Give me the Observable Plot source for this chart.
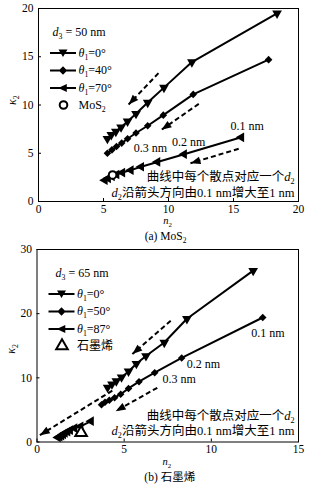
<!DOCTYPE html>
<html><head><meta charset="utf-8">
<script src="https://cdn.jsdelivr.net/npm/d3@7"></script>
<script src="https://cdn.jsdelivr.net/npm/@observablehq/plot@0.6"></script>
<style>
html,body{margin:0;padding:0;background:#fff;}
#root{width:321px;height:488px;overflow:hidden;}
svg{display:block;}
svg text, svg tspan{font-family:"Liberation Serif","Times New Roman","DejaVu Serif","Noto Sans CJK SC",serif !important;}
</style></head><body><div id="root"></div>
<script>
// ---------- Panel (a) MoS2 data ----------
const aX_t0 = [18.35, 11.8, 9.65, 8.4, 7.5, 6.85, 6.35, 5.95, 5.6, 5.3];
const aY_t0 = [19.5, 14.45, 11.8, 10.25, 9.1, 8.3, 7.7, 7.25, 6.9, 6.5];
const aX_t40 = [17.7, 11.9, 9.6, 8.4, 7.5, 6.85, 6.4, 6.0, 5.65, 5.3];
const aY_t40 = [14.7, 11.1, 8.95, 7.85, 7.1, 6.5, 6.05, 5.7, 5.35, 5.0];
const aX_t70 = [15.6, 11.2, 9.15, 7.9, 7.1, 6.45, 6.0, 5.65, 5.35, 5.1];
const aY_t70 = [6.65, 4.9, 4.1, 3.6, 3.25, 3.0, 2.8, 2.6, 2.4, 2.2];
const aRef = {x: 5.7, y: 2.75};
const aLabelText = ["0.1 nm", "0.2 nm", "0.3 nm"];
const aLabelX = [16.05, 11.55, 8.6];
const aLabelY = [7.8, 6.15, 5.5];
const aArrowX1 = [9.23, 12.33, 15.4], aArrowY1 = [13.3, 10.12, 5.46];
const aArrowX2 = [6.93, 9.46, 11.69], aArrowY2 = [10.05, 7.43, 3.97];
const aLegend = ["*θ*_1=0°", "*θ*_1=40°", "*θ*_1=70°", "MoS_2"];
const aD3 = "*d*_3 = 50 nm";
const aCaption = "(a) MoS_2";

// ---------- Panel (b) graphene data ----------
const bX_t0 = [12.4, 8.6, 7.3, 6.25, 5.7, 5.25, 4.85, 4.55, 4.3, 4.05];
const bY_t0 = [26.7, 19.2, 15.5, 13.4, 12.2, 11.0, 10.1, 9.5, 9.0, 8.5];
const bX_t50 = [12.95, 8.3, 6.75, 5.85, 5.25, 4.8, 4.45, 4.15, 3.9, 3.7];
const bY_t50 = [19.4, 13.1, 10.8, 9.4, 8.35, 7.45, 6.9, 6.5, 6.2, 5.8];
const bX_t87 = [3.1, 2.5, 2.15, 1.9, 1.75, 1.6, 1.5, 1.4, 1.3, 1.2];
const bY_t87 = [3.25, 2.45, 2.15, 1.85, 1.6, 1.4, 1.2, 1.0, 0.85, 0.7];
const bRef = {x: 2.53, y: 1.45};
const bLabelText = ["0.1 nm", "0.2 nm", "0.3 nm"];
const bLabelX = [13.25, 9.55, 8.15];
const bLabelY = [17.0, 12.1, 9.75];
const bArrowX1 = [7.67, 6.9, 4.32], bArrowY1 = [18.9, 8.45, 8.0];
const bArrowX2 = [5.47, 4.51, 0.16], bArrowY2 = [13.7, 4.8, 1.06];
const bLegend = ["*θ*_1=0°", "*θ*_1=50°", "*θ*_1=87°", "石墨烯"];
const bD3 = "*d*_3 = 65 nm";
const bCaption = "(b) 石墨烯";

const note1 = "曲线中每个散点对应一个*d*_2";
const note2 = "*d*_2沿箭头方向由0.1 nm增大至1 nm";
const xLabel = "*n*_2", yLabel = "*κ*_2";

const W = 321, H = 244;
const FONT = '"Liberation Serif", "Times New Roman", "DejaVu Serif", "Noto Sans CJK SC", serif';

// custom symbols
const headSym = {draw(c){ c.moveTo(0,0); c.lineTo(-3.8,10); c.lineTo(3.8,10); c.closePath(); }};
function legSym(kind){
  return {draw(c){
    c.moveTo(-13,-1.1); c.lineTo(13,-1.1); c.lineTo(13,1.1); c.lineTo(-13,1.1); c.closePath();
    if (kind === "down"){ c.moveTo(-4.5,-3.5); c.lineTo(4.5,-3.5); c.lineTo(0,4); c.closePath(); }
    else if (kind === "diamond"){ c.moveTo(0,-4.2); c.lineTo(4.2,0); c.lineTo(0,4.2); c.lineTo(-4.2,0); c.closePath(); }
    else { c.moveTo(-4.8,0); c.lineTo(3.8,-4); c.lineTo(3.8,4); c.closePath(); }
  }};
}

function panel(o){
  const kx = (W - o.ml - o.mr) / (o.xd[1] - o.xd[0]);
  const ky = (H - o.mt - o.mb) / (o.yd[1] - o.yd[0]);
  const lineData = o.series.flatMap(s => s.xs.map((x, i) => ({x, y: s.ys[i], name: s.name})));
  const arrows = o.ax1.map((x1, i) => ({x1, y1: o.ay1[i], x2: o.ax2[i], y2: o.ay2[i]}));
  const labels = o.lt.map((t, i) => ({t, x: o.lx[i], y: o.ly[i]}));
  const legKinds = ["down", "diamond", "left"];
  const rowDy = [44.5, 62, 79.5, 96.5];
  const T = {fontFamily: FONT};
  const marks = [
    Plot.frame({stroke: "black", strokeWidth: 1}),
    Plot.axisX(o.xt, {tickSize: -3, tickPadding: 6, label: null, fontSize: 11.5, fontFamily: FONT}),
    Plot.axisY(o.yt, {tickSize: -3, tickPadding: 8, label: null, fontSize: 11.5, fontFamily: FONT}),
    Plot.line(lineData, {x: "x", y: "y", z: "name", stroke: "black", strokeWidth: 2}),
    ...o.series.map(s => Plot.dot(s.xs.map((x, i) => ({x, y: s.ys[i]})),
      {x: "x", y: "y", symbol: s.symbol, rotate: s.rotate, r: s.r, fill: "black", stroke: "none"})),
    Plot.link(arrows, {x1: "x1", y1: "y1", x2: "x2", y2: "y2", stroke: "black", strokeWidth: 2, strokeDasharray: "5,3"}),
    Plot.dot(arrows, {x: "x2", y: "y2", symbol: headSym, r: 4, fill: "black", stroke: "none",
      rotate: d => Math.atan2((d.x2 - d.x1) * kx, (d.y2 - d.y1) * ky) * 180 / Math.PI}),
    Plot.dot([o.ref], {x: "x", y: "y", symbol: o.refSymbol, r: o.refR, fill: "white", stroke: "black", strokeWidth: 2}),
    Plot.text(labels, {...T, x: "x", y: "y", text: "t", fontSize: 12, textAnchor: "middle"}),
    // legend
    Plot.text([o.d3], {...T, frameAnchor: "top-left", dx: o.d3dx, dy: 24, text: d => d, textAnchor: "start", lineAnchor: "middle", fontSize: 12}),
    ...legKinds.map((k, i) => Plot.dot([0], {frameAnchor: "top-left", dx: 24.5, dy: rowDy[i], symbol: legSym(k), r: 5, fill: "black", stroke: "none"})),
    Plot.dot([0], {frameAnchor: "top-left", dx: 25, dy: rowDy[3], symbol: o.refSymbol, r: o.refR, fill: "white", stroke: "black", strokeWidth: 2}),
    ...o.legend.map((t, i) => Plot.text([t], {...T, frameAnchor: "top-left", dx: 40, dy: rowDy[i], text: d => d, textAnchor: "start", lineAnchor: "middle", fontSize: 12})),
    // notes
    Plot.text([note1], {...T, frameAnchor: "bottom-right", dx: -4, dy: o.n1dy, text: d => d, textAnchor: "end", lineAnchor: "middle", fontSize: 12.5}),
    Plot.text([note2], {...T, frameAnchor: "bottom-right", dx: -4, dy: o.n2dy, text: d => d, textAnchor: "end", lineAnchor: "middle", fontSize: 12.5}),
    // axis labels + caption
    Plot.text([xLabel], {...T, frameAnchor: "bottom", dx: -1, dy: o.xldy, text: d => d, lineAnchor: "middle", fontSize: 10.5}),
    Plot.text([yLabel], {...T, frameAnchor: "left", dx: -26, dy: o.yldy, rotate: -90, text: d => d, lineAnchor: "middle", fontSize: 12}),
    Plot.text([o.caption], {...T, frameAnchor: "bottom", dx: o.capdx, dy: o.capdy, text: d => d, lineAnchor: "middle", fontSize: 11.5})
  ];
  return Plot.plot({
    width: W, height: H,
    marginTop: o.mt, marginBottom: o.mb, marginLeft: o.ml, marginRight: o.mr,
    x: {domain: o.xd, label: null},
    y: {domain: o.yd, label: null},
    style: {fontFamily: FONT, fontSize: "11px", background: "white", color: "black", overflow: "visible"},
    marks
  });
}

function richify(svg){
  svg.querySelectorAll("text").forEach(t => {
    const s = t.textContent;
    if (!/[*_]/.test(s)) return;
    const fs = parseFloat(getComputedStyle(t).fontSize) || 11;
    const segs = [];
    let cur = "", italic = false;
    for (let i = 0; i < s.length; i++){
      const c = s[i];
      if (c === "*"){ if (cur) segs.push({text: cur, italic}); cur = ""; italic = !italic; }
      else if (c === "_"){ if (cur) segs.push({text: cur, italic}); cur = ""; segs.push({text: s[i+1], italic: false, sub: true}); i++; }
      else cur += c;
    }
    if (cur) segs.push({text: cur, italic});
    while (t.firstChild) t.removeChild(t.firstChild);
    let prevSub = false;
    segs.forEach(g => {
      const ts = document.createElementNS("http://www.w3.org/2000/svg", "tspan");
      ts.textContent = g.text;
      if (g.italic) ts.setAttribute("font-style", "italic");
      if (g.sub){ ts.setAttribute("font-size", (fs * 0.65).toFixed(2)); ts.setAttribute("dy", (fs * 0.25).toFixed(2)); }
      else if (prevSub){ ts.setAttribute("dy", (-fs * 0.25).toFixed(2)); }
      prevSub = !!g.sub;
      t.appendChild(ts);
    });
  });
}

const root = document.getElementById("root");
const A = panel({
  mt: 8, mb: 43, ml: 38, mr: 23, xd: [0, 20], yd: [0, 20],
  xt: [0, 5, 10, 15, 20], yt: [0, 5, 10, 15, 20],
  series: [
    {name: "t0", xs: aX_t0, ys: aY_t0, symbol: "triangle", rotate: 180, r: 3.6},
    {name: "t40", xs: aX_t40, ys: aY_t40, symbol: "diamond2", rotate: 0, r: 3.4},
    {name: "t70", xs: aX_t70, ys: aY_t70, symbol: "triangle", rotate: -90, r: 3.6}
  ],
  ref: aRef, refSymbol: "circle", refR: 3.8,
  lt: aLabelText, lx: aLabelX, ly: aLabelY,
  ax1: aArrowX1, ay1: aArrowY1, ax2: aArrowX2, ay2: aArrowY2,
  legend: aLegend, d3: aD3, d3dx: 14,
  n1dy: -25, n2dy: -9, xldy: 19.5, yldy: 0, caption: aCaption, capdx: -3, capdy: 35
});
const B = panel({
  mt: 5, mb: 46.5, ml: 36.5, mr: 23, xd: [0, 15], yd: [0, 30],
  xt: [0, 5, 10, 15], yt: [0, 10, 20, 30],
  series: [
    {name: "t0", xs: bX_t0, ys: bY_t0, symbol: "triangle", rotate: 180, r: 3.6},
    {name: "t50", xs: bX_t50, ys: bY_t50, symbol: "diamond2", rotate: 0, r: 3.4},
    {name: "t87", xs: bX_t87, ys: bY_t87, symbol: "triangle", rotate: -90, r: 3.6}
  ],
  ref: bRef, refSymbol: "triangle", refR: 4.3,
  lt: bLabelText, lx: bLabelX, ly: bLabelY,
  ax1: bArrowX1, ay1: bArrowY1, ax2: bArrowX2, ay2: bArrowY2,
  legend: bLegend, d3: bD3, d3dx: 18.5,
  n1dy: -26, n2dy: -11, xldy: 20, yldy: 8, caption: bCaption, capdx: 2, capdy: 35.5
});
root.appendChild(A);
root.appendChild(B);
richify(A); richify(B);
</script></body></html>
